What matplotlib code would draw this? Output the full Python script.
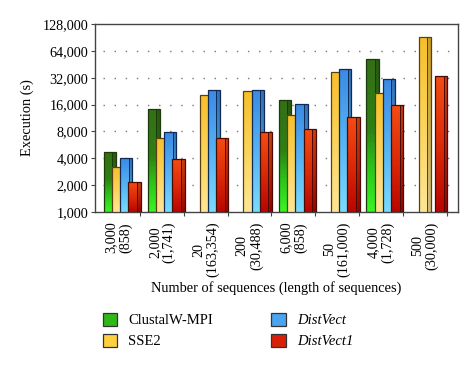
import numpy as np
import matplotlib
matplotlib.use("Agg")
import matplotlib.pyplot as plt
from matplotlib.colors import LinearSegmentedColormap
from matplotlib.patches import Patch
from matplotlib.ticker import FixedLocator, NullLocator

# ---------------- data ----------------
categories = ["3,000\n(858)", "2,000\n(1,741)", "20\n(163,354)", "200\n(30,488)",
              "6,000\n(858)", "50\n(161,000)", "4,000\n(1,728)", "500\n(30,000)"]
series_names = ["ClustalW-MPI", "SSE2", "DistVect", "DistVect1"]
clustalw = [4700, 14200, None, None, 17900, None, 52000, None]
sse2 = [3200, 6700, 20400, 23000, 12100, 37500, 21500, 91600]
distvect = [4050, 7800, 23600, 23400, 16300, 40500, 31300, None]
distvect1 = [2170, 3920, 6730, 7900, 8550, 11700, 15800, 33300]
ytick_values = [1000, 2000, 4000, 8000, 16000, 32000, 64000, 128000]
ytick_labels = ["1,000", "2,000", "4,000", "8,000", "16,000", "32,000", "64,000", "128,000"]

values = [clustalw, sse2, distvect, distvect1]

# ---------------- style ----------------
serif = ["Liberation Serif", "DejaVu Serif"]
plt.rcParams["font.family"] = serif

# gradient colour stops (bottom -> top)
grad = [
    [(0.0, "#38f522"), (0.3, "#2cc018"), (0.55, "#2e7f14"), (1.0, "#346e16")],
    [(0.0, "#fde595"), (0.5, "#fbd35a"), (1.0, "#f6bf2c")],
    [(0.0, "#78dafc"), (0.5, "#55b2f2"), (1.0, "#3a8ae4")],
    [(0.0, "#b80500"), (0.5, "#dc2a08"), (1.0, "#f24c12")],
]
edges = ["#1c3a0a", "#5a4010", "#102a55", "#4a0a05"]
legend_colors = ["#2fb818", "#fdd040", "#4aa4ef", "#d82008"]
cmaps = [LinearSegmentedColormap.from_list(f"c{i}", g) for i, g in enumerate(grad)]

offsets = [0.17, 0.36, 0.545, 0.735]
width = 0.28
front_frac = 0.7

fig = plt.figure(figsize=(4.74, 3.66), dpi=100)
ax = fig.add_axes([95 / 474, 1 - 212 / 366, (457.5 - 95) / 474, (212 - 24) / 366])
ax.set_yscale("log")
ax.set_ylim(1000, 128000)
ax.set_xlim(-0.03, 8.25)

# grid
for yv in ytick_values[1:-1]:
    ax.plot([0.15, 8.2], [yv, yv], linestyle=(0, (1, 7)), color="#777777",
            linewidth=1.0, zorder=0.5)

nseg = 60
for s, vals in enumerate(values):
    cm = cmaps[s]
    for i, v in enumerate(vals):
        if v is None:
            continue
        x0 = i + offsets[s]
        lo, hi = np.log10(1000), np.log10(v)
        levels = np.logspace(lo, hi, nseg + 1)
        bottoms = levels[:-1]
        heights = np.diff(levels)
        t = np.linspace(0, 1, nseg)
        cols_front = cm(t)
        cols_side = cols_front.copy()
        cols_side[:, :3] *= 0.82
        zb = 2 + s
        ax.bar(np.full(nseg, x0), heights, bottom=bottoms, width=width * front_frac,
               align="edge", color=cols_front, linewidth=0, zorder=zb)
        ax.bar(np.full(nseg, x0 + width * front_frac), heights, bottom=bottoms,
               width=width * (1 - front_frac), align="edge", color=cols_side,
               linewidth=0, zorder=zb)
        # outline + inner divider
        ax.bar(x0, v - 1000, bottom=1000, width=width, align="edge", fill=False,
               edgecolor=edges[s], linewidth=0.9, zorder=zb + 0.1)
        ax.plot([x0 + width * front_frac] * 2, [1000, v], color=edges[s],
                linewidth=0.7, zorder=zb + 0.1)

# axes styling
for sp in ax.spines.values():
    sp.set_color("#444444")
    sp.set_linewidth(1.0)
ax.yaxis.set_major_locator(FixedLocator(ytick_values))
ax.yaxis.set_minor_locator(NullLocator())
ax.set_yticklabels(ytick_labels, fontsize=10.2)
ax.tick_params(axis="y", direction="out", length=3, width=0.8, color="#444444", pad=2)

ax.xaxis.set_major_locator(FixedLocator(np.arange(1, 9)))
ax.xaxis.set_minor_locator(FixedLocator(np.arange(8) + 0.5))
ax.set_xticklabels([""] * 8)
ax.set_xticklabels(categories, minor=True, rotation=90, fontsize=10.2,
                   linespacing=1.1, va="top", ha="center")
ax.tick_params(axis="x", which="major", direction="out", length=3, width=0.8,
               color="#444444")
ax.tick_params(axis="x", which="minor", length=0, pad=7)

ax.set_ylabel("Execution (s)", fontsize=10.4, labelpad=6)
ax.set_xlabel("Number of sequences (length of sequences)", fontsize=10.4, labelpad=3)

handles = [Patch(facecolor=legend_colors[k], edgecolor="#333333", linewidth=0.9)
           for k in range(4)]
leg = fig.legend(handles, series_names,
                 loc="upper left", bbox_to_anchor=(97 / 474, 1 - 307 / 366),
                 ncol=2, frameon=False, fontsize=10.5, handlelength=1.0,
                 handleheight=1.0, columnspacing=4.0, handletextpad=0.75,
                 labelspacing=0.45, borderaxespad=0)
for txt in leg.get_texts():
    if txt.get_text().startswith("DistVect"):
        txt.set_style("italic")

fig.savefig("out.png", dpi=100)
